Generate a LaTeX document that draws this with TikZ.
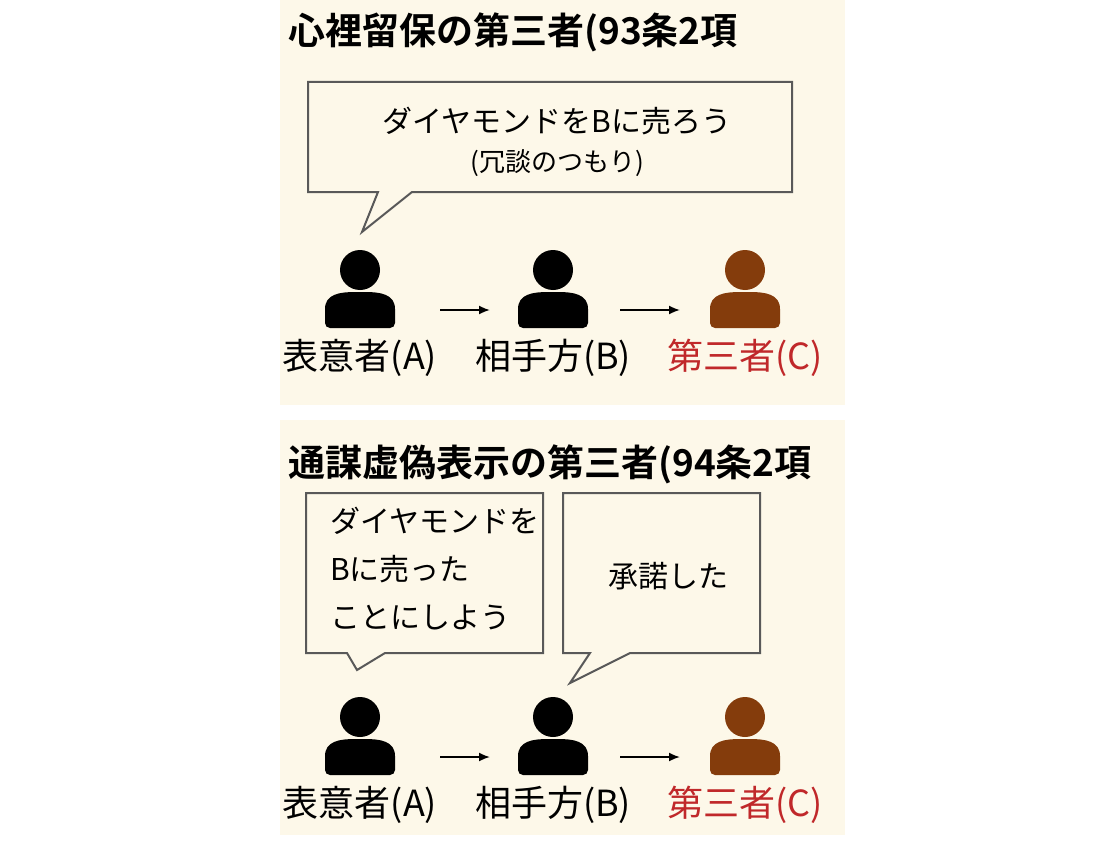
\documentclass[tikz,border=0pt]{standalone}
\usepackage{fontspec}
\setmainfont{Noto Sans CJK JP}
\newfontfamily\boldjp{Noto Sans CJK JP Bold}
\definecolor{paper}{HTML}{FDF8E9}
\definecolor{thirdred}{HTML}{C0282A}
\definecolor{brownman}{HTML}{843C0C}
\tikzset{
  panel/.style={fill=paper,draw=none},
  bubble/.style={draw=gray!70!black,fill=paper,line width=2pt,line join=miter},
  lbl/.style={font=\fontsize{36}{40}\selectfont,inner sep=0pt},
  say/.style={font=\fontsize{30}{34}\selectfont,inner sep=0pt},
  ttl/.style={font=\boldjp\fontsize{37}{40}\selectfont,anchor=west,inner sep=0pt},
  arr/.style={-{Latex[length=11pt,width=9pt]},line width=1.8pt}
}
\usetikzlibrary{arrows.meta}
\newcommand{\person}[3]{% x, y(head), colour
  \fill[#3] (#1,#2) circle (20);
  \fill[#3,rounded corners=5] (#1-35,#2+58) -- (#1-35,#2+44) .. controls (#1-35,#2+24) and (#1-20,#2+22) .. (#1,#2+22)
     .. controls (#1+20,#2+22) and (#1+35,#2+24) .. (#1+35,#2+44) -- (#1+35,#2+58) -- cycle;}
\begin{document}
\begin{tikzpicture}[x=1pt,y=-1pt]
\useasboundingbox (0,0) rectangle (1118,848);
\fill[white] (0,0) rectangle (1118,848);
% Felder
\fill[panel] (280,0) rectangle (845,405);
\fill[panel] (280,420) rectangle (845,835);

% oben
\node[ttl] (t1) at (288,32) {心裡留保の第三者(93条2項};
\draw[bubble] (308,82) -- (792,82) -- (792,192) -- (412,192) -- (362,232) -- (378,192) -- (308,192) -- cycle;
\node[say] (s1) at (557,121) {ダイヤモンドをBに売ろう};
\node[say,font=\fontsize{26}{30}\selectfont] (s2) at (557,163) {(冗談のつもり)};
\person{360}{270}{black}
\person{553}{270}{black}
\person{745}{270}{brownman}
\node[lbl] (a1) at (360,358) {表意者(A)};
\node[lbl] (b1) at (553,358) {相手方(B)};
\node[lbl,text=thirdred] (c1) at (745,358) {第三者(C)};
\coordinate (p1) at (440,310); \coordinate (q1) at (490,310);
\coordinate (p2) at (620,310); \coordinate (q2) at (680,310);
\draw[arr] (p1) -- (q1);
\draw[arr] (p2) -- (q2);

% unten
\node[ttl] (t2) at (288,464) {通謀虚偽表示の第三者(94条2項};
\draw[bubble] (306,493) -- (543,493) -- (543,653) -- (385,653) -- (357,670) -- (347,653) -- (306,653) -- cycle;
\node[say,align=left,anchor=north west,font=\fontsize{30}{48}\selectfont] (s3) at (330,507) {ダイヤモンドを\\Bに売った\\ことにしよう};
\draw[bubble] (563,493) -- (760,493) -- (760,653) -- (630,653) -- (570,683) -- (590,653) -- (563,653) -- cycle;
\node[say] (s4) at (668,576) {承諾した};
\person{360}{717}{black}
\person{553}{717}{black}
\person{745}{717}{brownman}
\node[lbl] (a2) at (360,805) {表意者(A)};
\node[lbl] (b2) at (553,805) {相手方(B)};
\node[lbl,text=thirdred] (c2) at (745,805) {第三者(C)};
\coordinate (p3) at (440,757); \coordinate (q3) at (490,757);
\coordinate (p4) at (620,757); \coordinate (q4) at (680,757);
\draw[arr] (p3) -- (q3);
\draw[arr] (p4) -- (q4);
\end{tikzpicture}
\end{document}
